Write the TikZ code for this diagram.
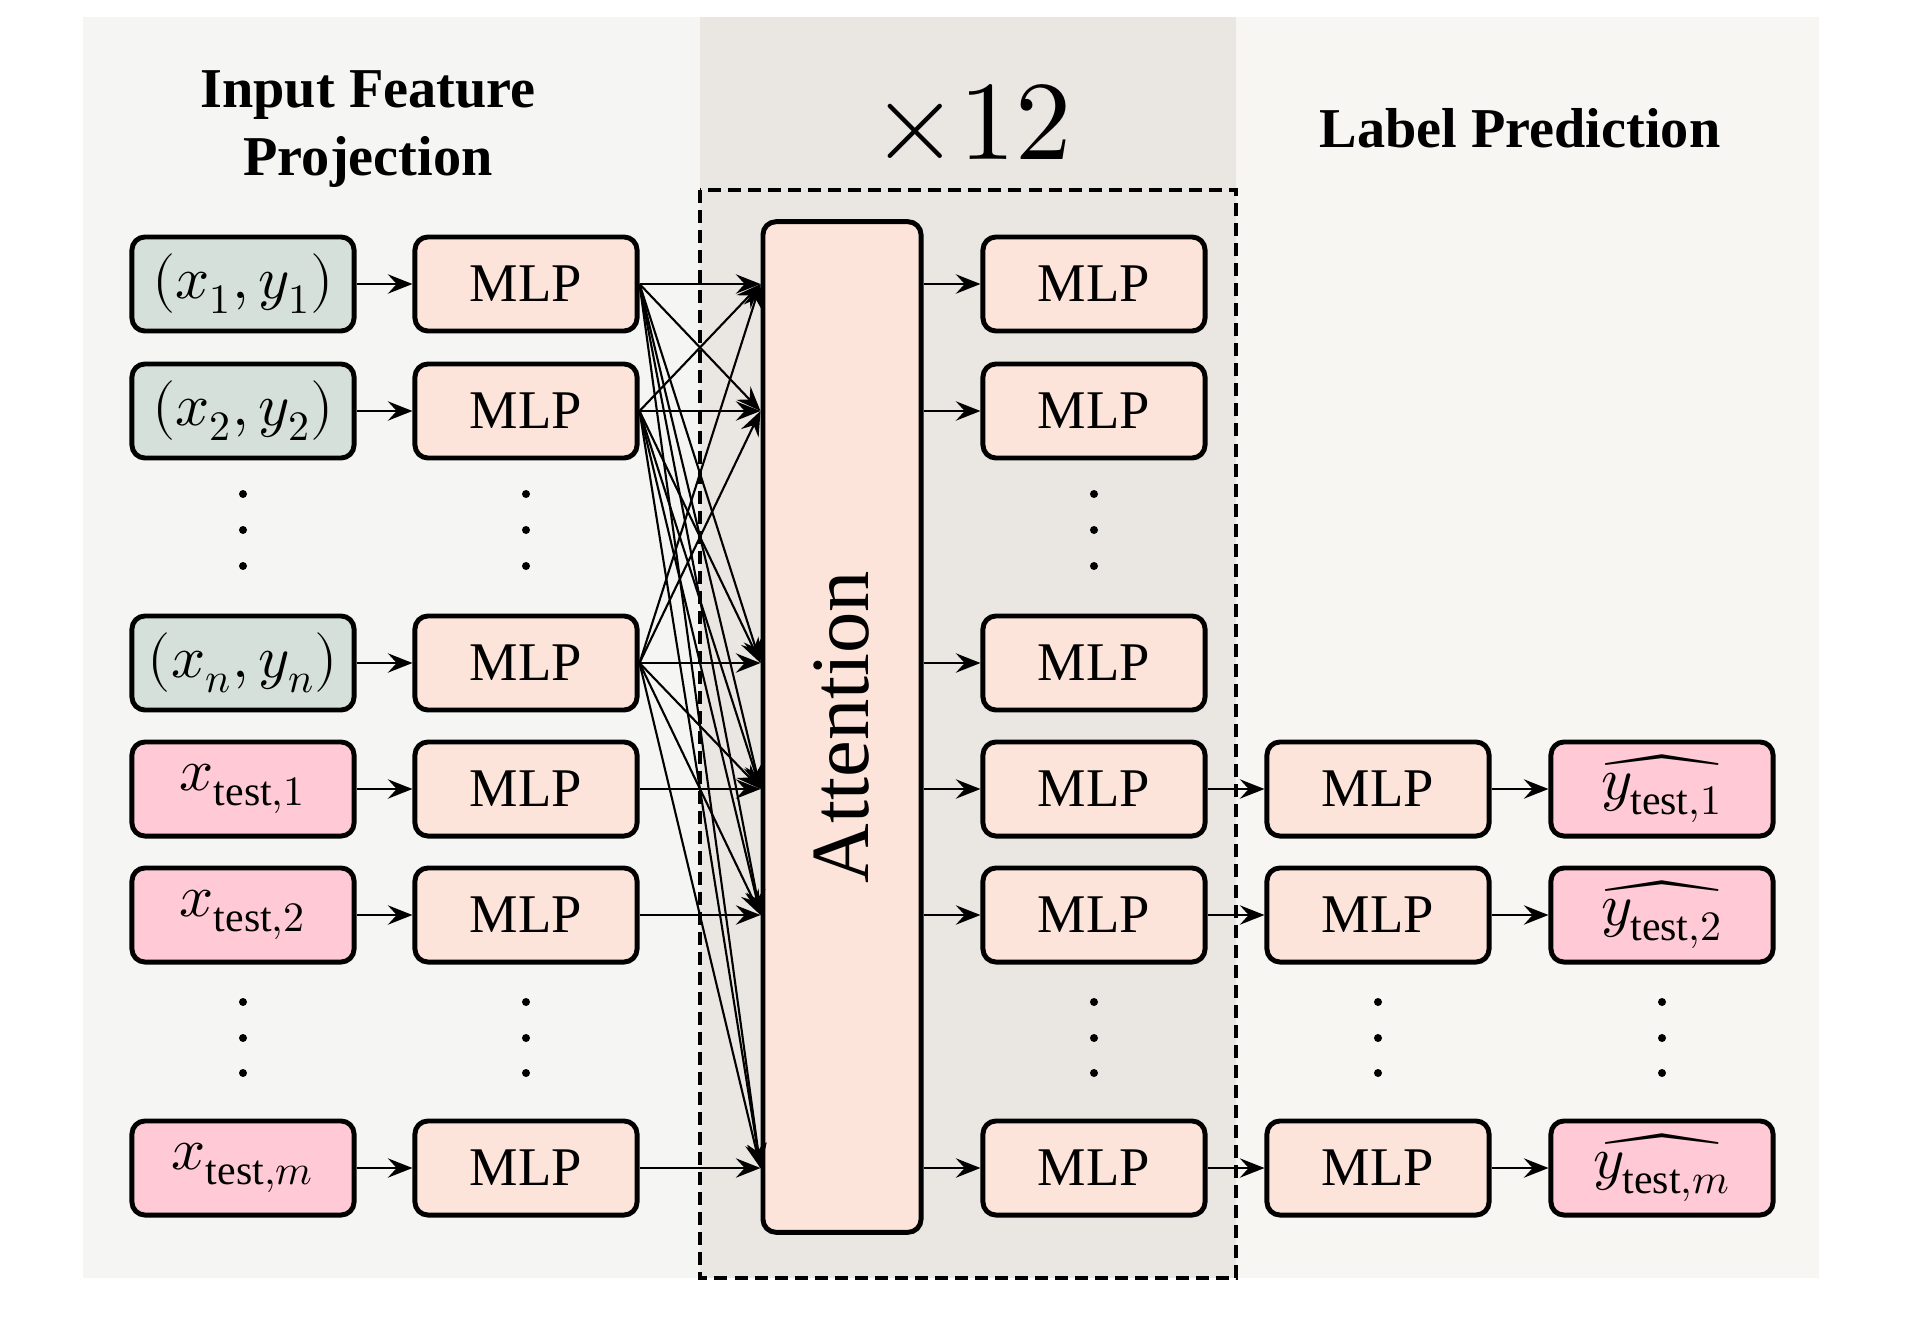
\documentclass[tikz,border=0pt]{standalone}
\usepackage{amsmath}
\usepackage{graphicx}
\usepackage{fontspec}
\usepackage{unicode-math}
\setmainfont{Liberation Serif}
\setmathfont{Latin Modern Math}
\usetikzlibrary{arrows.meta}

\definecolor{panelL}{HTML}{F5F5F3}
\definecolor{panelM}{HTML}{EAE7E3}
\definecolor{panelR}{HTML}{F8F6F2}
\definecolor{ctxgreen}{HTML}{D5E0DB}
\definecolor{mlppeach}{HTML}{FDE4DA}
\definecolor{testpink}{HTML}{FFCAD5}

\begin{document}
\begin{tikzpicture}[
    x=0.01cm, y=-0.01cm,
    box/.style={rectangle, draw, line width=1.4pt, rounded corners=0.13cm, minimum width=2.22cm, minimum height=0.94cm, inner sep=0pt},
    feature/.style={box, fill=ctxgreen, font=\fontsize{17}{20}\selectfont},
    query/.style={box, fill=testpink, font=\fontsize{17}{20}\selectfont},
    mlp/.style={box, fill=mlppeach, font=\fontsize{15.5}{18}\selectfont},
    attention/.style={box, fill=mlppeach, minimum width=1.58cm, minimum height=10.1cm, font=\fontsize{23.5}{28}\selectfont},
    heading/.style={font=\bfseries\fontsize{16}{19.5}\selectfont, align=center},
    arrow/.style={-{Stealth[length=7pt, width=5.5pt, inset=2.5pt]}, line width=0.6pt}
]
\useasboundingbox (0,0) rectangle (1912,1324);

% panels
\fill[panelL] (83,17) rectangle (700,1278);
\fill[panelM] (700,17) rectangle (1236,1278);
\fill[panelR] (1236,17) rectangle (1819,1278);

\node[heading] (title-in) at (368,129) {Input Feature\\Projection};
\node[font=\fontsize{32}{38}\selectfont] (repeat) at (972,122) {$\times 12$};
\node[heading] (title-out) at (1520,128) {Label Prediction};

% context rows
\foreach \r/\y in {1/284, 2/411, n/663} {
    \node[feature] (in-c\r) at (243,\y) {$(x_\r, y_\r)$};
    \node[mlp] (emb-c\r) at (526,\y) {MLP};
    \node[mlp] (out-c\r) at (1094,\y) {MLP};
    \draw[arrow] (in-c\r) -- (emb-c\r);
}

% test rows
\foreach \r/\y in {1/789, 2/915, m/1168} {
    \node[query] (in-t\r) at (243,\y) {$x_{\text{test},\r}$};
    \node[mlp] (emb-t\r) at (526,\y) {MLP};
    \node[mlp] (out-t\r) at (1094,\y) {MLP};
    \node[mlp] (head-t\r) at (1378,\y) {MLP};
    \node[query] (pred-t\r) at (1662,\y) {$\widehat{y_{\text{test},\r}}$};
    \draw[arrow] (in-t\r) -- (emb-t\r);
    \draw[arrow] (out-t\r) -- (head-t\r);
    \draw[arrow] (head-t\r) -- (pred-t\r);
}

\node[attention] (att) at (842,727) {\rotatebox{90}{Attention}};

% dots
\foreach \x in {243, 526, 1094}
    \foreach \y in {494, 530, 566}
        \fill (\x,\y) circle (0.04cm);
\foreach \x in {243, 526, 1094, 1378, 1662}
    \foreach \y in {1002, 1038, 1073}
        \fill (\x,\y) circle (0.04cm);

\draw[line width=1.15pt, dash pattern=on 3.7pt off 2pt] (700,190) rectangle (1236,1278);

% into attention
\foreach \s in {c1, c2, cn}
    \foreach \t in {c1, c2, cn, t1, t2, tm}
        \draw[arrow] (emb-\s.east) -- (att.west |- emb-\t);
\foreach \t in {t1, t2, tm}
    \draw[arrow] (emb-\t) -- (att.west |- emb-\t);

% out of attention
\foreach \t in {c1, c2, cn, t1, t2, tm}
    \draw[arrow] (att.east |- out-\t) -- (out-\t);
\end{tikzpicture}
\end{document}
